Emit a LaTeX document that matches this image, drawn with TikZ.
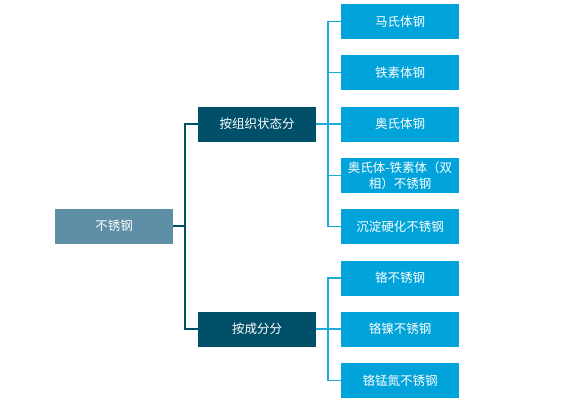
\documentclass[tikz,border=0pt]{standalone}
\usepackage{fontspec}
\setmainfont{Noto Sans CJK SC}
\definecolor{rootc}{HTML}{5F8FA6}
\definecolor{midc}{HTML}{00506A}
\definecolor{leafc}{HTML}{00A3DA}
\definecolor{linec}{HTML}{1CA9DB}
\begin{document}
\begin{tikzpicture}[x=1pt,y=-1pt,
  box/.style={minimum width=118pt,minimum height=35pt,inner sep=1pt,text=white,font=\fontsize{12.5}{15.5}\selectfont,align=center},
  rootbox/.style={box,fill=rootc},
  midbox/.style={box,fill=midc},
  leafbox/.style={box,fill=leafc},
  rconn/.style={draw=midc,line width=1.5pt},
  lconn/.style={draw=linec,line width=1.5pt}]
\useasboundingbox (0,0) rectangle (579,402);
\node[rootbox] (root) at (114,226) {不锈钢};
\node[midbox] (m1) at (257,124) {按组织状态分};
\node[midbox] (m2) at (257,329) {按成分分};
\node[leafbox] (l1) at (400,21.5) {马氏体钢};
\node[leafbox] (l2) at (400,72.5) {铁素体钢};
\node[leafbox] (l3) at (400,124) {奥氏体钢};
\node[leafbox] (l4) at (400,175.5) {奥氏体-铁素体（双\\相）不锈钢};
\node[leafbox] (l5) at (400,226.5) {沉淀硬化不锈钢};
\node[leafbox] (k1) at (400,278) {铬不锈钢};
\node[leafbox] (k2) at (400,329) {铬镍不锈钢};
\node[leafbox] (k3) at (400,380.5) {铬锰氮不锈钢};
\draw[rconn] (root.east) -- ++(12,0) coordinate (rj);
\draw[rconn] (m1.west) -- ++(-13,0) |- (m2.west);
\draw[lconn] (m1.east) -- ++(12,0);
\draw[lconn] (l1.west) -- ++(-13,0) |- (l5.west);
\foreach \n in {l2,l3,l4} \draw[lconn] (\n.west) -- ++(-13,0);
\draw[lconn] (m2.east) -- ++(12,0);
\draw[lconn] (k1.west) -- ++(-13,0) |- (k3.west);
\draw[lconn] (k2.west) -- ++(-13,0);
\end{tikzpicture}
\end{document}
